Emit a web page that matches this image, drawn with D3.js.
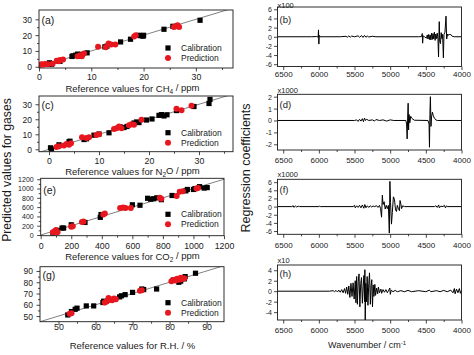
<!DOCTYPE html>
<html><head><meta charset="utf-8">
<script src="https://cdn.jsdelivr.net/npm/d3@7"></script>
<style>body{margin:0;background:#fff}svg{display:block}</style>
</head><body><svg id="c" width="474" height="355"></svg>
<script>
// ---------- DATA ----------
const chCalib = [[2.0,2.5],[2.4,1.5],[3.5,3.6],[4.0,3.4],[6.3,6.5],[6.5,6.9],[7.0,7.3],[7.4,8.0],[7.6,6.6],[8.2,7.8],[9.2,8.8],[12.6,12.6],[13.0,13.0],[15.6,15.7],[17.5,17.4],[19.1,19.9],[19.5,19.6],[19.9,19.3],[20.0,19.9],[23.9,23.7],[25.6,25.6],[30.8,29.4]];
const chPred = [[0.3,1.2],[0.5,1.5],[0.9,1.4],[1.2,1.7],[1.7,1.5],[2.6,1.9],[3.4,3.8],[3.8,3.5],[4.0,4.2],[4.6,4.6],[7.4,6.7],[7.9,7.3],[8.2,6.7],[8.6,8.3],[11.3,12.6],[12.8,12.4],[13.3,14.7],[13.8,14.0],[14.6,14.0],[18.5,19.9],[18.2,19.2],[25.8,25.2],[26.1,25.6],[26.5,26.2],[26.8,25.2]];
const n2oCalib = [[0.3,1.0],[0.5,0.1],[2.0,3.0],[4.0,5.0],[4.2,5.4],[7.0,6.5],[7.5,7.0],[9.0,9.4],[10.0,10.2],[12.0,11.0],[14.2,15.0],[15.0,14.5],[15.6,15.2],[17.0,17.5],[17.5,18.2],[18.0,17.8],[19.5,19.5],[20.6,20.2],[22.0,22.6],[22.5,23.1],[23.0,22.2],[23.6,23.0],[25.5,25.8],[29.0,28.5],[32.0,30.5],[32.2,33.2]];
const n2oPred = [[1.5,1.5],[2.0,2.0],[3.0,2.6],[3.5,3.6],[4.0,3.0],[4.4,4.0],[6.6,8.0],[7.5,7.6],[8.0,8.0],[9.5,9.6],[10.0,10.1],[13.0,13.6],[13.5,14.0],[14.0,15.2],[14.5,14.0],[16.0,16.0],[16.5,16.7],[17.0,16.4],[18.5,19.6],[25.5,27.0],[26.5,26.0],[28.5,29.0]];
const co2Calib = [[80,40],[95,80],[110,100],[140,150],[150,150],[200,220],[290,270],[390,380],[395,440],[600,650],[650,640],[700,790],[720,770],[740,780],[760,800],[790,760],[860,850],[950,950],[960,980],[1000,980],[1010,1000],[1040,1040],[1070,1010],[1090,1020]];
const co2Pred = [[80,60],[90,70],[100,110],[110,60],[200,180],[210,190],[270,280],[280,290],[410,440],[420,460],[520,580],[540,590],[555,580],[590,580],[780,800],[790,780],[890,840],[910,930],[930,940],[1020,1000],[1030,1010]];
const rhCalib = [[52.5,51],[53.5,54],[54.5,56],[55,57],[57.5,59],[59.5,59],[62,62],[62.2,63.2],[66.5,67],[67,68],[68,69],[70,71],[72.5,74],[73,73.5],[76.5,74],[81,82],[82.5,80],[83,81],[84,83],[84.2,85],[87,88]];
const rhPred = [[53,52],[53.5,52.5],[62.5,62],[63,63],[63.5,64],[64,65],[64.5,64],[65,65.5],[65.5,65],[63.5,66],[72,72.5],[72.5,73],[80.5,81],[81,82],[81.5,81.5],[82,82],[82.5,82.5],[83,82.5],[83.5,83],[84,83.5],[82,83],[83,84]];

const chTicks = [0,10,20,30];
const n2oTicks = [0,10,20,30];
const co2Ticks = [0,200,400,600,800,1000,1200];
const rhTicks = [50,60,70,80,90];
const wnTicks = [6500,6000,5500,5000,4500,4000];
const bTicks = [-6,-4,-2,0,2,4,6];
const dTicks = [-2,-1,0,1,2];
const fTicks = [-6,-4,-2,0,2,4,6];
const hTicks = [-4,-2,0,2,4];

// regression coefficient spectra: [wavenumber, value]
const specB = [[6580,0],[6100,0],[6030,0.05],[6010,-0.1],[6005,1.5],[6000,-1.6],[5995,0.3],[5985,0],[5700,0],[5620,0.1],[5600,-0.1],[5580,0.2],[5560,-0.1],[5540,0.15],[5500,0],[5450,0.2],[5430,-0.1],[5400,0.25],[5380,-0.15],[5360,0.3],[5340,-0.1],[5320,0.15],[5300,-0.05],[5250,0.1],[5200,0],[4600,0],[4560,0.05],[4550,0.7],[4545,-1.4],[4538,0.2],[4520,0],[4490,-0.3],[4480,0.4],[4470,-0.5],[4460,0.5],[4450,-0.6],[4440,0.4],[4430,-0.7],[4420,0.8],[4410,-0.6],[4400,0.7],[4390,-0.5],[4380,1.0],[4370,-0.8],[4360,0.6],[4350,-0.4],[4340,0.8],[4330,-0.5],[4322,-4.4],[4312,3.3],[4305,-1.0],[4295,-1.5],[4285,0.9],[4275,-0.4],[4265,0.5],[4254,-4.6],[4246,0.5],[4232,1.0],[4217,4.5],[4208,-0.5],[4195,0.6],[4185,0.3],[4170,0.6],[4160,0.4],[4150,0.5],[4130,0.1],[4100,0],[4000,0]];
const specD = [[6580,0],[5500,0],[5470,0.05],[5450,-0.08],[5430,0.1],[5410,-0.05],[5390,0.15],[5375,-0.1],[5360,0.2],[5345,0],[5330,0.1],[5300,0],[5250,0.05],[5220,-0.05],[5200,0.08],[5150,0],[5100,0.05],[5050,-0.05],[5000,0.05],[4950,0],[4780,0],[4770,-0.3],[4762,-1.55],[4755,0.2],[4748,1.45],[4742,-0.8],[4735,0.5],[4725,-0.2],[4712,0.35],[4700,0.2],[4680,0.1],[4660,0.02],[4470,0],[4455,-0.3],[4449,-2.25],[4443,0.5],[4436,2.0],[4428,-0.5],[4420,0.3],[4408,0.7],[4395,0.4],[4380,0.2],[4360,0.05],[4340,0],[4000,0]];
const specF = [[6580,0],[6380,0],[6360,0.2],[6350,-0.2],[6330,0.15],[6310,-0.1],[6290,0.1],[6270,0],[6000,0],[5990,0.1],[5980,0],[5520,0],[5500,0.3],[5490,-0.3],[5470,0.2],[5450,-0.2],[5430,0.3],[5410,-0.3],[5390,0.4],[5370,-0.4],[5355,0.5],[5340,-0.3],[5320,0.2],[5300,-0.2],[5280,0.2],[5260,-0.1],[5240,0.15],[5220,0],[5190,0.2],[5170,-0.2],[5150,0.3],[5135,-0.5],[5121,-2.6],[5110,2.8],[5100,0.5],[5085,1.2],[5070,-0.6],[5055,0.3],[5040,-0.5],[5025,0.3],[5012,-6.5],[5004,6.2],[4995,1.0],[4982,-4.3],[4970,-1.5],[4955,2.4],[4940,1.8],[4925,-0.8],[4912,-1.2],[4900,0.3],[4885,-0.5],[4870,-1.0],[4862,1.5],[4850,0.6],[4840,-0.5],[4825,0.2],[4800,0],[4380,0],[4360,0.2],[4340,-0.2],[4320,0.4],[4310,-0.3],[4290,0.1],[4260,0],[4240,0.3],[4225,-0.3],[4210,0.2],[4200,0],[4000,0]];
const specH = [[6580,0],[5850,0],[5800,0.1],[5780,-0.1],[5760,0.15],[5740,-0.15],[5720,0.2],[5700,-0.2],[5680,0.3],[5660,-0.3],[5640,0.5],[5625,-0.4],[5610,0.8],[5595,-0.6],[5580,1.0],[5565,-1.2],[5550,1.5],[5535,-1.0],[5520,1.6],[5505,-1.5],[5490,2.0],[5480,-2.2],[5470,2.8],[5460,-2.5],[5448,1.8],[5437,3.3],[5425,-3.0],[5413,1.5],[5402,2.6],[5390,-2.3],[5378,1.0],[5368,3.0],[5360,-2.0],[5355,4.1],[5350,-6.0],[5342,1.5],[5332,-2.0],[5323,2.8],[5312,-2.7],[5300,1.5],[5290,3.5],[5278,-2.5],[5268,1.0],[5258,2.2],[5248,-3.0],[5238,1.2],[5228,-1.0],[5215,1.3],[5205,-0.8],[5190,0.6],[5175,-0.5],[5165,0.8],[5150,-0.3],[5130,0.4],[5120,-0.4],[5100,0.3],[5080,-0.2],[5060,0.3],[5040,-0.3],[5020,0.2],[5005,0.6],[4998,-0.6],[4985,0.2],[4960,-0.1],[4930,0.15],[4900,-0.1],[4850,0.1],[4800,-0.1],[4750,0.15],[4700,-0.1],[4600,0.1],[4500,-0.1],[4450,0.2],[4430,-0.1],[4350,0.1],[4300,-0.1],[4250,0.15],[4200,-0.1],[4150,0.2],[4120,-0.3],[4100,0.5],[4090,-0.5],[4070,0.4],[4050,-0.3],[4030,0.5],[4015,-0.4],[4000,0.2]];

// ---------- DRAW ----------
const FONT = '"Liberation Sans", Arial, Helvetica, sans-serif';
const RED = '#e8161e';
const INK = '#1a1a1a';
const svg = d3.select('#c');
svg.append('rect').attr('width',474).attr('height',355).attr('fill','#fff');
const fmt = d => String(d).replace('\u2212','-');

function styleAxis(a){
  a.select('.domain').remove();
  a.selectAll('line').attr('stroke',INK).attr('stroke-width',0.8);
  a.selectAll('text').attr('font-family',FONT).attr('fill',INK);
}
function bottomAxis(g, sc, y, major, minor, off, fs){
  const a = g.append('g').attr('transform',`translate(0,${y})`)
    .call(d3.axisBottom(sc).tickValues(major).tickSize(3.5).tickSizeOuter(0).tickFormat(fmt));
  styleAxis(a);
  a.selectAll('text').attr('y',off).attr('dy','0.35em').attr('font-size',fs);
  if(minor){
    const m = g.append('g').attr('transform',`translate(0,${y})`)
      .call(d3.axisBottom(sc).tickValues(minor).tickSize(2).tickFormat(''));
    styleAxis(m);
  }
}
function leftAxis(g, sc, x, major, minor, off, fs){
  const a = g.append('g').attr('transform',`translate(${x},0)`)
    .call(d3.axisLeft(sc).tickValues(major).tickSize(3.5).tickSizeOuter(0).tickFormat(fmt));
  styleAxis(a);
  a.selectAll('text').attr('x',-off).attr('dy','0.35em').attr('font-size',fs);
  if(minor){
    const m = g.append('g').attr('transform',`translate(${x},0)`)
      .call(d3.axisLeft(sc).tickValues(minor).tickSize(2).tickFormat(''));
    styleAxis(m);
  }
}
function mids(t){ const r=[]; for(let i=0;i<t.length-1;i++) r.push((t[i]+t[i+1])/2); return r; }

let clipId = 0;
function box(g,x0,y0,x1,y1){
  const id = 'clip'+(clipId++);
  svg.append('clipPath').attr('id',id).append('rect').attr('x',x0).attr('y',y0).attr('width',x1-x0).attr('height',y1-y0);
  return id;
}
function frame(g,x0,y0,x1,y1){
  g.append('rect').attr('x',x0).attr('y',y0).attr('width',x1-x0).attr('height',y1-y0)
    .attr('fill','none').attr('stroke',INK).attr('stroke-width',0.9);
}

// left scatter panels
const leftPanels = [
  {lab:'(a)', calib:chCalib, pred:chPred, ticks:chTicks, xd:[0,37.1], yd:[-0.8,35.9], x0:39, x1:233, y0:10, y1:68,
   xminor:[5,15,25,35], yminor:[5,15,25], tOff:9, title:['Reference values for CH','4',' / ppm'], titleY:88.5, labY:20, legY:48, yfs:8.5},
  {lab:'(c)', calib:n2oCalib, pred:n2oPred, ticks:n2oTicks, xd:[-2,36.8], yd:[-1.6,35.5], x0:39, x1:233, y0:96, y1:151.7,
   xminor:[5,15,25,35], yminor:[5,15,25], tOff:9, title:['Reference values for N','2','O / ppm'], titleY:172, labY:105.7, legY:132.7, yfs:8.5},
  {lab:'(e)', calib:co2Calib, pred:co2Pred, ticks:co2Ticks, xd:[0,1200], yd:[-15,1220], x0:40.7, x1:224, y0:178.3, y1:235.7,
   xminor:mids(co2Ticks), yminor:mids(co2Ticks), tOff:10, title:['Reference values for CO','2',' / ppm'], titleY:257, labY:190.7, legY:214.3, yfs:7},
  {lab:'(g)', calib:rhCalib, pred:rhPred, ticks:rhTicks, xd:[45,94.7], yd:[45,93.8], x0:40, x1:224, y0:266.7, y1:321.7,
   xminor:[55,65,75,85], yminor:[55,65,75,85], tOff:5, title:['Reference values for R.H. / %'], titleY:346, labY:275, legY:302.7, yfs:8.5}
];

leftPanels.forEach(p=>{
  const g = svg.append('g');
  const x = d3.scaleLinear().domain(p.xd).range([p.x0,p.x1]);
  const y = d3.scaleLinear().domain(p.yd).range([p.y1,p.y0]);
  const cid = box(g,p.x0,p.y0,p.x1,p.y1);
  const inner = g.append('g').attr('clip-path',`url(#${cid})`);
  const lo = Math.min(p.xd[0],p.yd[0]), hi = Math.max(p.xd[1],p.yd[1]);
  inner.append('line').attr('x1',x(lo)).attr('y1',y(lo)).attr('x2',x(hi)).attr('y2',y(hi))
    .attr('stroke','#808080').attr('stroke-width',1);
  inner.selectAll('rect.c').data(p.calib).enter().append('rect')
    .attr('x',d=>x(d[0])-2.6).attr('y',d=>y(d[1])-2.6).attr('width',5.2).attr('height',5.2).attr('fill','#000');
  inner.selectAll('circle.p').data(p.pred).enter().append('circle')
    .attr('cx',d=>x(d[0])).attr('cy',d=>y(d[1])).attr('r',3).attr('fill',RED);
  frame(g,p.x0,p.y0,p.x1,p.y1);
  bottomAxis(g,x,p.y1,p.ticks,p.xminor,p.tOff,8.8);
  leftAxis(g,y,p.x0,p.ticks,p.yminor,7,p.yfs);
  g.append('text').attr('x',p.x0+2.5).attr('y',p.labY).attr('dy','0.35em').attr('font-family',FONT)
    .attr('font-size',10.5).attr('fill',INK).text(p.lab);
  // legend
  const lx = 168;
  g.append('rect').attr('x',lx-2.6).attr('y',p.legY-2.6).attr('width',5.2).attr('height',5.2).attr('fill','#000');
  g.append('circle').attr('cx',lx).attr('cy',p.legY+10).attr('r',3).attr('fill',RED);
  g.append('text').attr('x',181).attr('y',p.legY).attr('dy','0.35em').attr('font-family',FONT).attr('font-size',8.5).attr('fill',INK).text('Calibration');
  g.append('text').attr('x',181).attr('y',p.legY+10).attr('dy','0.35em').attr('font-family',FONT).attr('font-size',8.5).attr('fill',INK).text('Prediction');
  // title
  const t = g.append('text').attr('x',132.5).attr('y',p.titleY).attr('dy','0.35em').attr('text-anchor','middle')
    .attr('font-family',FONT).attr('font-size',9.5).attr('fill',INK);
  t.append('tspan').text(p.title[0]);
  if(p.title.length>1){
    t.append('tspan').attr('font-size',6.5).attr('dy','0.3em').text(p.title[1]);
    t.append('tspan').attr('dy','-0.3em').text(p.title[2]);
  }
});

svg.append('text').attr('transform','translate(7,170) rotate(-90)').attr('text-anchor','middle').attr('dy','0.35em')
  .attr('font-family',FONT).attr('font-size',12.2).attr('fill',INK).text('Predicted values for gases');

// right spectra panels
const rightPanels = [
  {lab:'(b)', data:specB, ticks:bTicks, yd:[-6.5,6.5], y0:7, y1:66.5, mult:'x100', multY:5, labY:20, tOff:7.5},
  {lab:'(d)', data:specD, ticks:dTicks, yd:[-2.48,2.2], y0:94.3, y1:150, mult:'x1000', multY:90, labY:105, tOff:10},
  {lab:'(f)', data:specF, ticks:fTicks, yd:[-6.8,6.7], y0:179.3, y1:234.3, mult:'x1000', multY:174.7, labY:190, tOff:10.7},
  {lab:'(h)', data:specH, ticks:hTicks, yd:[-5.5,5], y0:265, y1:320, mult:'x10', multY:260, labY:273.3, tOff:10}
];
const RX0 = 277.5, RX1 = 461.5;
const xw = d3.scaleLinear().domain([6580,4000]).range([RX0,RX1]);
const wnMinor = mids(wnTicks);

rightPanels.forEach(p=>{
  const g = svg.append('g');
  const y = d3.scaleLinear().domain(p.yd).range([p.y1,p.y0]);
  const cid = box(g,RX0,p.y0,RX1,p.y1);
  const line = d3.line().x(d=>xw(d[0])).y(d=>y(d[1]));
  g.append('g').attr('clip-path',`url(#${cid})`).append('path').datum(p.data)
    .attr('d',line).attr('fill','none').attr('stroke','#000').attr('stroke-width',1).attr('stroke-linejoin','miter');
  frame(g,RX0,p.y0,RX1,p.y1);
  bottomAxis(g,xw,p.y1,wnTicks,wnMinor,p.tOff,8);
  leftAxis(g,y,RX0,p.ticks,null,5.5,7);
  g.append('text').attr('x',RX0+2).attr('y',p.labY).attr('dy','0.35em').attr('font-family',FONT)
    .attr('font-size',9.5).attr('fill',INK).text(p.lab);
  g.append('text').attr('x',RX0).attr('y',p.multY).attr('dy','0.35em').attr('font-family',FONT)
    .attr('font-size',7.5).attr('fill',INK).text(p.mult);
});

svg.append('text').attr('transform','translate(246,168) rotate(-90)').attr('text-anchor','middle').attr('dy','0.35em')
  .attr('font-family',FONT).attr('font-size',12.5).attr('fill',INK).text('Regression coefficients');

const wt = svg.append('text').attr('x',367).attr('y',345).attr('dy','0.35em').attr('text-anchor','middle')
  .attr('font-family',FONT).attr('font-size',9).attr('fill',INK);
wt.append('tspan').text('Wavenumber / cm');
wt.append('tspan').attr('font-size',6).attr('dy','-0.6em').text('-1');
</script>
</body></html>
